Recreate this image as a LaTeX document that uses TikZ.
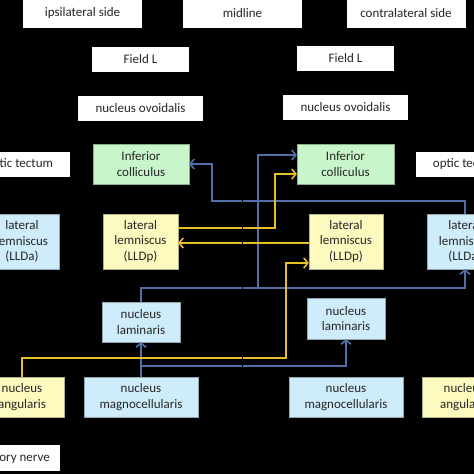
\documentclass[tikz,border=0pt]{standalone}
\usepackage{fontspec}
\setmainfont{Carlito}
\usetikzlibrary{arrows.meta}
\definecolor{bluearrow}{RGB}{79,112,168}
\definecolor{yellowarrow}{RGB}{230,190,40}
\definecolor{greenfill}{RGB}{200,245,202}
\definecolor{bluefill}{RGB}{206,236,250}
\definecolor{yellowfill}{RGB}{253,250,192}
\tikzset{
  box/.style={fill=white, inner sep=0pt, align=center, text=black!85,
    font=\fontsize{13}{15.5}\selectfont},
  greenbox/.style={box, fill=greenfill, draw=greenfill!70!black, line width=0.4pt},
  bluebox/.style={box, fill=bluefill, draw=bluefill!70!black, line width=0.4pt},
  yellowbox/.style={box, fill=yellowfill, draw=yellowfill!70!black, line width=0.4pt},
  bline/.style={draw=bluearrow, line width=1.6pt},
  yline/.style={draw=yellowarrow, line width=1.6pt}
}
\begin{document}
\begin{tikzpicture}[x=1pt, y=-1pt, >={Straight Barb[length=4pt,width=10pt]}]
    % 背景の描画
    \fill[black] (0,0) rectangle (474,474);
    \useasboundingbox (0,0) rectangle (474,474);
    \clip (0,0) rectangle (474,474);

    % 見出しの描画
    \node[box, minimum width=119pt, minimum height=28pt] (ipsi) at (82.5,13.5) {ipsilateral side};
    \node[box, minimum width=119pt, minimum height=28pt] (mid) at (242.5,13.5) {midline};
    \node[box, minimum width=119pt, minimum height=28pt] (contra) at (406,13.5) {contralateral side};

    % 上位の核の描画
    \node[box, minimum width=97pt, minimum height=25pt] (fieldl) at (140.5,59.5) {Field L};
    \node[box, minimum width=97pt, minimum height=25pt] (fieldr) at (345.5,58.5) {Field L};
    \node[box, minimum width=125pt, minimum height=25pt] (ovoidl) at (140.5,108.5) {nucleus ovoidalis};
    \node[box, minimum width=125pt, minimum height=25pt] (ovoidr) at (345.5,107.5) {nucleus ovoidalis};
    \node[box, minimum width=101pt, minimum height=25pt] (tectuml) at (19.5,164.5) {optic tectum};
    \node[box, minimum width=101pt, minimum height=25pt] (tectumr) at (466.5,164.5) {optic tectum};
    \node[greenbox, minimum width=96pt, minimum height=40pt] (icl) at (141,164) {Inferior\\colliculus};
    \node[greenbox, minimum width=97pt, minimum height=40pt] (icr) at (345.5,164) {Inferior\\colliculus};

    % 外側毛帯核の描画
    \node[bluebox, minimum width=74pt, minimum height=55pt] (lldal) at (22,241.5) {lateral\\lemniscus\\(LLDa)};
    \node[yellowbox, minimum width=75pt, minimum height=55pt] (lldpl) at (140.5,241.5) {lateral\\lemniscus\\(LLDp)};
    \node[yellowbox, minimum width=74pt, minimum height=55pt] (lldpr) at (346,241.5) {lateral\\lemniscus\\(LLDp)};
    \node[bluebox, minimum width=76pt, minimum height=55pt] (lldar) at (465,241.5) {lateral\\lemniscus\\(LLDa)};

    % 脳幹の核の描画
    \node[bluebox, minimum width=78pt, minimum height=40pt] (nll) at (141,322) {nucleus\\laminaris};
    \node[bluebox, minimum width=78pt, minimum height=41pt] (nlr) at (346,318.5) {nucleus\\laminaris};
    \node[yellowbox, minimum width=84pt, minimum height=40pt] (nal) at (22,397) {nucleus\\angularis};
    \node[bluebox, minimum width=114pt, minimum height=40pt] (nml) at (141,397) {nucleus\\magnocellularis};
    \node[bluebox, minimum width=114pt, minimum height=40pt] (nmr) at (346,397) {nucleus\\magnocellularis};
    \node[yellowbox, minimum width=84pt, minimum height=40pt] (nar) at (464,397) {nucleus\\angularis};
    \node[box, minimum width=98pt, minimum height=26pt] (nerve) at (11,458) {auditory nerve};

    % 青の経路の描画
    \coordinate (nlsplit) at (258,288);
    \coordinate (nmsplit) at (141,366);
    \draw[bline, ->] (lldar.north) -- ++(0,-13) -| ([xshift=23pt]icl.east) -- (icl.east);
    \draw[bline, ->] (nll.north) -- ++(0,-14) -| (lldar.south);
    \draw[bline, ->] (nlsplit) |- ([yshift=9pt]icr.west);
    \draw[bline, ->] (nml.north) -- (nll.south);
    \draw[bline, ->] (nmsplit) -| (nlr.south);

    % 黄色の経路の描画
    \draw[yline, ->] ([yshift=13.5pt]lldpl.east) -| ([xshift=-22pt,yshift=-10pt]icr.west) -- ([yshift=-10pt]icr.west);
    \draw[yline, ->] ([yshift=-1.5pt]lldpr.west) -- ([yshift=-1.5pt]lldpl.east);
    \draw[yline, ->] (nal.north) -- ++(0,-19) -| ([xshift=-23pt,yshift=-21.5pt]lldpr.west) -- ([yshift=-21.5pt]lldpr.west);

    % 正中線の描画
    \draw[black, line width=1.5pt] (mid.south) ++(0,10) -- (242.5,474);

\end{tikzpicture}
\end{document}
